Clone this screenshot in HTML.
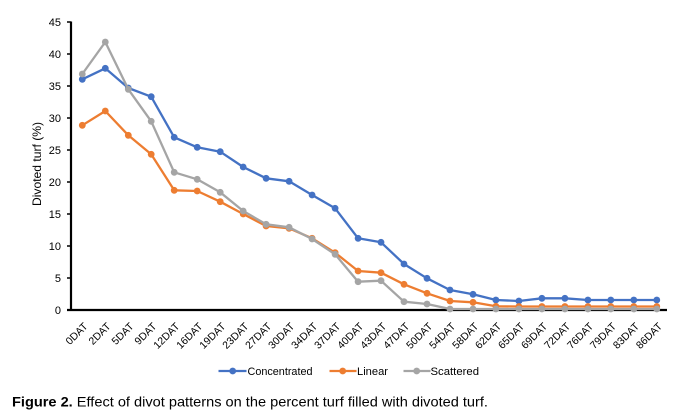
<!DOCTYPE html>
<html><head><meta charset="utf-8"><style>
html,body{margin:0;padding:0;background:#fff;}
svg{display:block;}
</style></head><body>
<svg width="680" height="418" viewBox="0 0 680 418" xmlns="http://www.w3.org/2000/svg" font-family="'Liberation Sans', Arial, sans-serif">
<rect width="680" height="418" fill="#fff"/>
<!-- y axis ticks labels -->
<g font-size="11" fill="#000" text-anchor="end">
<text x="61" y="314">0</text>
<text x="61" y="282">5</text>
<text x="61" y="250">10</text>
<text x="61" y="218">15</text>
<text x="61" y="186">20</text>
<text x="61" y="154">25</text>
<text x="61" y="122">30</text>
<text x="61" y="90">35</text>
<text x="61" y="58">40</text>
<text x="61" y="26">45</text>
</g>
<g stroke="#000" stroke-width="1.5">
<line x1="67" y1="278" x2="71" y2="278"/>
<line x1="67" y1="246" x2="71" y2="246"/>
<line x1="67" y1="214" x2="71" y2="214"/>
<line x1="67" y1="182" x2="71" y2="182"/>
<line x1="67" y1="150" x2="71" y2="150"/>
<line x1="67" y1="118" x2="71" y2="118"/>
<line x1="67" y1="86" x2="71" y2="86"/>
<line x1="67" y1="54" x2="71" y2="54"/>
<line x1="67" y1="22" x2="71" y2="22"/>
</g>
<line x1="71" y1="21.5" x2="71" y2="311" stroke="#000" stroke-width="2.2"/>
<line x1="67" y1="310" x2="667" y2="310" stroke="#000" stroke-width="2.2"/>
<text transform="translate(41,164) rotate(-90)" text-anchor="middle" font-size="12" textLength="84" lengthAdjust="spacingAndGlyphs">Divoted turf (%)</text>

<!-- series -->
<g fill="none" stroke-width="2.3" stroke-linejoin="round">
<polyline stroke="#4472C4" points="82.3,79.3 105.3,68.3 128.3,88 151.2,96.7 174.2,137.3 197.2,147.3 220.2,151.7 243.2,167 266.1,178.3 289.1,181.3 312.1,195 335.1,208.3 358.1,238.3 381,242.3 404,264 427,278.3 450,290 473,294.3 495.9,300 518.9,301 541.9,298.3 564.9,298.3 587.9,300 610.8,300 633.8,300 656.8,300"/>
</g>
<g fill="#4472C4">
<circle cx="82.3" cy="79.3" r="3.4"/><circle cx="105.3" cy="68.3" r="3.4"/><circle cx="128.3" cy="88" r="3.4"/><circle cx="151.2" cy="96.7" r="3.4"/><circle cx="174.2" cy="137.3" r="3.4"/><circle cx="197.2" cy="147.3" r="3.4"/><circle cx="220.2" cy="151.7" r="3.4"/><circle cx="243.2" cy="167" r="3.4"/><circle cx="266.1" cy="178.3" r="3.4"/><circle cx="289.1" cy="181.3" r="3.4"/><circle cx="312.1" cy="195" r="3.4"/><circle cx="335.1" cy="208.3" r="3.4"/><circle cx="358.1" cy="238.3" r="3.4"/><circle cx="381" cy="242.3" r="3.4"/><circle cx="404" cy="264" r="3.4"/><circle cx="427" cy="278.3" r="3.4"/><circle cx="450" cy="290" r="3.4"/><circle cx="473" cy="294.3" r="3.4"/><circle cx="495.9" cy="300" r="3.4"/><circle cx="518.9" cy="301" r="3.4"/><circle cx="541.9" cy="298.3" r="3.4"/><circle cx="564.9" cy="298.3" r="3.4"/><circle cx="587.9" cy="300" r="3.4"/><circle cx="610.8" cy="300" r="3.4"/><circle cx="633.8" cy="300" r="3.4"/><circle cx="656.8" cy="300" r="3.4"/>
</g>
<g fill="none" stroke-width="2.3" stroke-linejoin="round">
<polyline stroke="#ED7D31" points="82.3,125.3 105.3,111 128.3,135.3 151.2,154.3 174.2,190.3 197.2,191 220.2,201.7 243.2,214 266.1,226 289.1,228.3 312.1,238.3 335.1,252.7 358.1,271 381,272.7 404,284.3 427,293.3 450,301 473,302.3 495.9,306.3 518.9,306.5 541.9,306.5 564.9,306.5 587.9,306.5 610.8,306.5 633.8,306.5 656.8,306.5"/>
</g>
<g fill="#ED7D31">
<circle cx="82.3" cy="125.3" r="3.4"/><circle cx="105.3" cy="111" r="3.4"/><circle cx="128.3" cy="135.3" r="3.4"/><circle cx="151.2" cy="154.3" r="3.4"/><circle cx="174.2" cy="190.3" r="3.4"/><circle cx="197.2" cy="191" r="3.4"/><circle cx="220.2" cy="201.7" r="3.4"/><circle cx="243.2" cy="214" r="3.4"/><circle cx="266.1" cy="226" r="3.4"/><circle cx="289.1" cy="228.3" r="3.4"/><circle cx="312.1" cy="238.3" r="3.4"/><circle cx="335.1" cy="252.7" r="3.4"/><circle cx="358.1" cy="271" r="3.4"/><circle cx="381" cy="272.7" r="3.4"/><circle cx="404" cy="284.3" r="3.4"/><circle cx="427" cy="293.3" r="3.4"/><circle cx="450" cy="301" r="3.4"/><circle cx="473" cy="302.3" r="3.4"/><circle cx="495.9" cy="306.3" r="3.4"/><circle cx="518.9" cy="306.5" r="3.4"/><circle cx="541.9" cy="306.5" r="3.4"/><circle cx="564.9" cy="306.5" r="3.4"/><circle cx="587.9" cy="306.5" r="3.4"/><circle cx="610.8" cy="306.5" r="3.4"/><circle cx="633.8" cy="306.5" r="3.4"/><circle cx="656.8" cy="306.5" r="3.4"/>
</g>
<g fill="none" stroke-width="2.3" stroke-linejoin="round">
<polyline stroke="#A5A5A5" points="82.3,74 105.3,42 128.3,89.3 151.2,121.3 174.2,172.3 197.2,179.3 220.2,192.3 243.2,211 266.1,224.3 289.1,227.3 312.1,239 335.1,254.3 358.1,281.7 381,280.7 404,301.7 427,304 450,309 473,309 495.9,309 518.9,309 541.9,309 564.9,309 587.9,309 610.8,309 633.8,309 656.8,309"/>
</g>
<g fill="#A5A5A5">
<circle cx="82.3" cy="74" r="3.4"/><circle cx="105.3" cy="42" r="3.4"/><circle cx="128.3" cy="89.3" r="3.4"/><circle cx="151.2" cy="121.3" r="3.4"/><circle cx="174.2" cy="172.3" r="3.4"/><circle cx="197.2" cy="179.3" r="3.4"/><circle cx="220.2" cy="192.3" r="3.4"/><circle cx="243.2" cy="211" r="3.4"/><circle cx="266.1" cy="224.3" r="3.4"/><circle cx="289.1" cy="227.3" r="3.4"/><circle cx="312.1" cy="239" r="3.4"/><circle cx="335.1" cy="254.3" r="3.4"/><circle cx="358.1" cy="281.7" r="3.4"/><circle cx="381" cy="280.7" r="3.4"/><circle cx="404" cy="301.7" r="3.4"/><circle cx="427" cy="304" r="3.4"/><circle cx="450" cy="309" r="3.4"/><circle cx="473" cy="309" r="3.4"/><circle cx="495.9" cy="309" r="3.4"/><circle cx="518.9" cy="309" r="3.4"/><circle cx="541.9" cy="309" r="3.4"/><circle cx="564.9" cy="309" r="3.4"/><circle cx="587.9" cy="309" r="3.4"/><circle cx="610.8" cy="309" r="3.4"/><circle cx="633.8" cy="309" r="3.4"/><circle cx="656.8" cy="309" r="3.4"/>
</g>

<!-- x labels -->
<g font-size="10.5" fill="#000" text-anchor="end">
<text transform="translate(88.3,327) rotate(-45)">0DAT</text>
<text transform="translate(111.3,327) rotate(-45)">2DAT</text>
<text transform="translate(134.3,327) rotate(-45)">5DAT</text>
<text transform="translate(157.2,327) rotate(-45)">9DAT</text>
<text transform="translate(180.2,327) rotate(-45)">12DAT</text>
<text transform="translate(203.2,327) rotate(-45)">16DAT</text>
<text transform="translate(226.2,327) rotate(-45)">19DAT</text>
<text transform="translate(249.2,327) rotate(-45)">23DAT</text>
<text transform="translate(272.1,327) rotate(-45)">27DAT</text>
<text transform="translate(295.1,327) rotate(-45)">30DAT</text>
<text transform="translate(318.1,327) rotate(-45)">34DAT</text>
<text transform="translate(341.1,327) rotate(-45)">37DAT</text>
<text transform="translate(364.1,327) rotate(-45)">40DAT</text>
<text transform="translate(387,327) rotate(-45)">43DAT</text>
<text transform="translate(410,327) rotate(-45)">47DAT</text>
<text transform="translate(433,327) rotate(-45)">50DAT</text>
<text transform="translate(456,327) rotate(-45)">54DAT</text>
<text transform="translate(479,327) rotate(-45)">58DAT</text>
<text transform="translate(501.9,327) rotate(-45)">62DAT</text>
<text transform="translate(524.9,327) rotate(-45)">65DAT</text>
<text transform="translate(547.9,327) rotate(-45)">69DAT</text>
<text transform="translate(570.9,327) rotate(-45)">72DAT</text>
<text transform="translate(593.9,327) rotate(-45)">76DAT</text>
<text transform="translate(616.8,327) rotate(-45)">79DAT</text>
<text transform="translate(639.8,327) rotate(-45)">83DAT</text>
<text transform="translate(662.8,327) rotate(-45)">86DAT</text>
</g>

<!-- legend -->
<g stroke-width="2.3">
<line x1="218.5" y1="371" x2="246.5" y2="371" stroke="#4472C4"/>
<line x1="329.5" y1="371" x2="356.5" y2="371" stroke="#ED7D31"/>
<line x1="403.5" y1="371" x2="430.5" y2="371" stroke="#A5A5A5"/>
</g>
<circle cx="232.7" cy="371" r="3.4" fill="#4472C4"/>
<circle cx="342.7" cy="371" r="3.4" fill="#ED7D31"/>
<circle cx="416.7" cy="371" r="3.4" fill="#A5A5A5"/>
<g font-size="11" fill="#000">
<text x="247.5" y="375" textLength="65" lengthAdjust="spacingAndGlyphs">Concentrated</text>
<text x="357" y="375" textLength="31" lengthAdjust="spacingAndGlyphs">Linear</text>
<text x="430.5" y="375" textLength="48.5" lengthAdjust="spacingAndGlyphs">Scattered</text>
</g>

<!-- caption -->
<text x="12" y="406.5" font-size="14" fill="#000" textLength="476" lengthAdjust="spacingAndGlyphs"><tspan font-weight="bold">Figure 2.</tspan> Effect of divot patterns on the percent turf filled with divoted turf.</text>
</svg>
</body></html>
